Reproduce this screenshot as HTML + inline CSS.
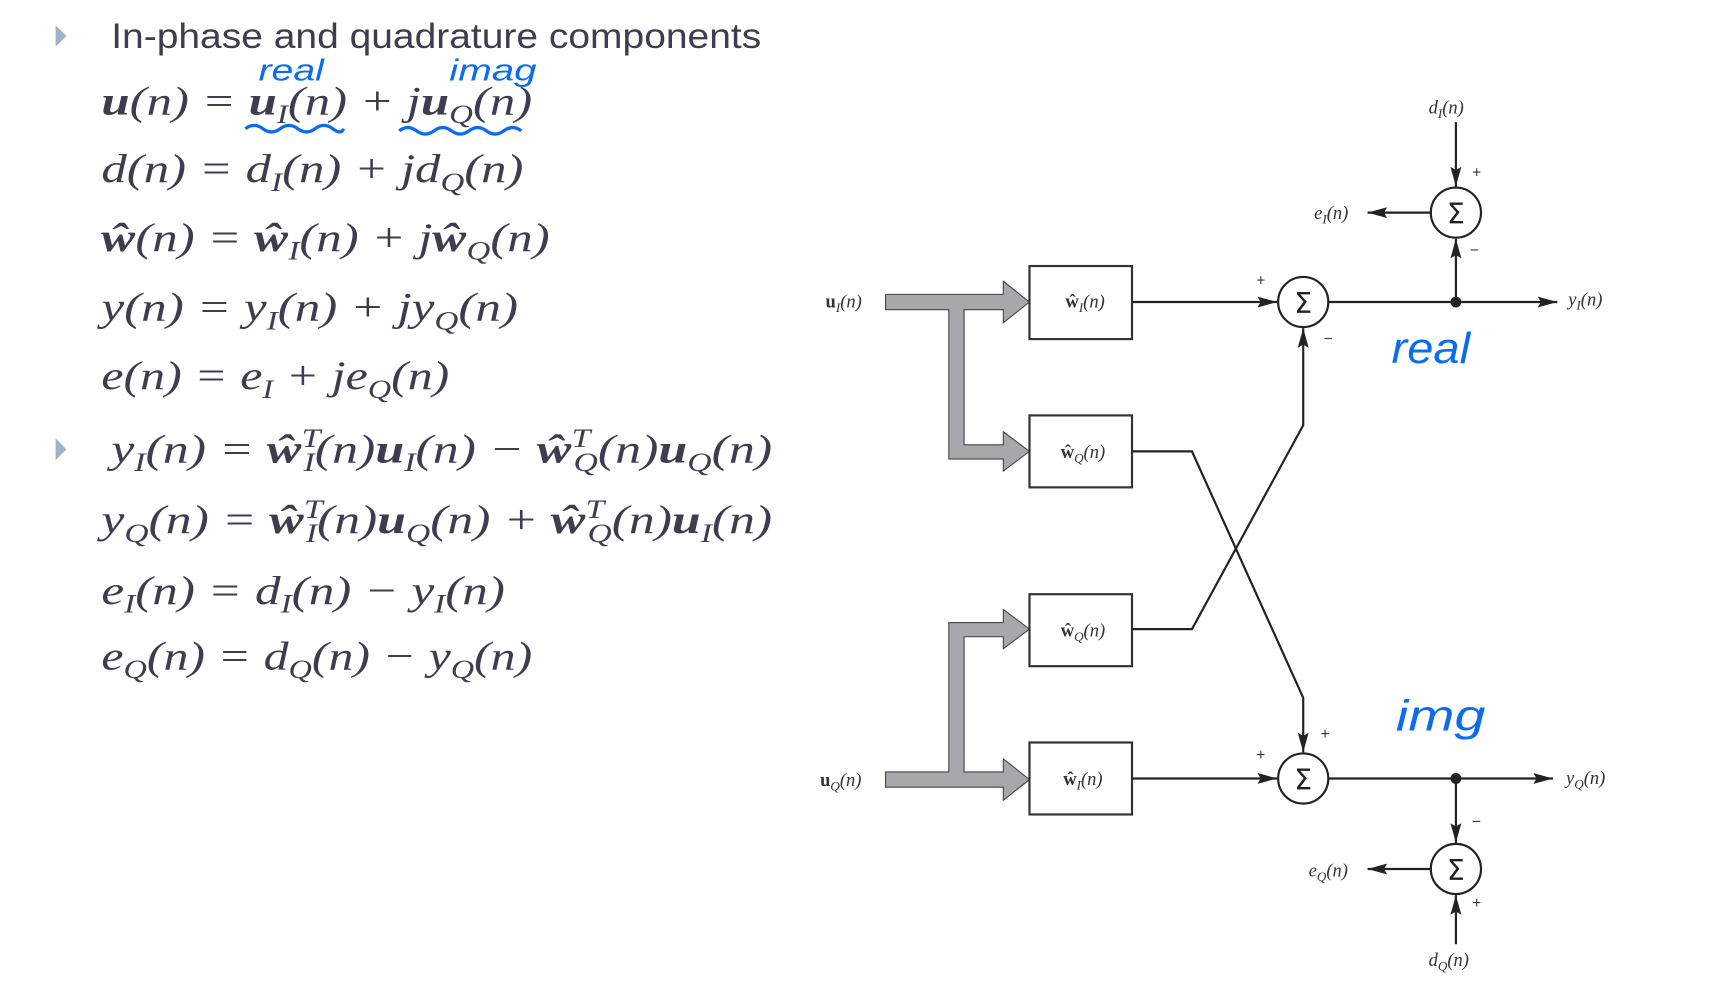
<!DOCTYPE html>
<html><head><meta charset="utf-8"><style>
html,body{margin:0;padding:0;background:#fff;}
svg{display:block;}
.m{font-family:"Liberation Serif",serif;font-style:italic;font-size:37px;fill:#3d3d4f;}
.b{font-weight:bold;}
.lab{font-family:"Liberation Serif",serif;font-size:17px;fill:#333;}
.sg{font-family:"Liberation Sans",sans-serif;font-size:14px;fill:#333;}
.hw{font-family:"Liberation Sans",sans-serif;font-style:italic;fill:#0b6cf0;}
</style></head><body>
<svg width="1710" height="990" viewBox="0 0 1568 908" preserveAspectRatio="none" xmlns="http://www.w3.org/2000/svg">
<defs>
<marker id="ah2" markerWidth="18" markerHeight="10" refX="18" refY="5" orient="auto" markerUnits="userSpaceOnUse"><path d="M0,0 L18,5 L0,10 L3,5 z" fill="#222"/></marker>
</defs>
<path d="M51,23 L61,33 L51,43 z" fill="#9fb3c8"/>
<path d="M51,402 L61,412 L51,422 z" fill="#9fb3c8"/>
<text x="102" y="44" font-family="Liberation Sans,sans-serif" font-size="32" fill="#3d3d4f" textLength="596" lengthAdjust="spacingAndGlyphs">In-phase and quadrature components</text>

<text class="m" y="105" textLength="395" lengthAdjust="spacingAndGlyphs" x="93"><tspan class="b">u</tspan>(n) = <tspan class="b">u</tspan><tspan dy="8" font-size="24">I</tspan><tspan dy="-8">(n) + j</tspan><tspan class="b">u</tspan><tspan dy="8" font-size="24">Q</tspan><tspan dy="-8">(n)</tspan></text>
<text class="m" y="167" x="93" textLength="387" lengthAdjust="spacingAndGlyphs">d(n) = d<tspan dy="8" font-size="24">I</tspan><tspan dy="-8">(n) + jd</tspan><tspan dy="8" font-size="24">Q</tspan><tspan dy="-8">(n)</tspan></text>
<text class="m" y="230" x="93" textLength="411" lengthAdjust="spacingAndGlyphs"><tspan class="b">ŵ</tspan>(n) = <tspan class="b">ŵ</tspan><tspan dy="8" font-size="24">I</tspan><tspan dy="-8">(n) + j</tspan><tspan class="b">ŵ</tspan><tspan dy="8" font-size="24">Q</tspan><tspan dy="-8">(n)</tspan></text>
<text class="m" y="294" x="93" textLength="382" lengthAdjust="spacingAndGlyphs">y(n) = y<tspan dy="8" font-size="24">I</tspan><tspan dy="-8">(n) + jy</tspan><tspan dy="8" font-size="24">Q</tspan><tspan dy="-8">(n)</tspan></text>
<text class="m" y="357" x="93" textLength="319" lengthAdjust="spacingAndGlyphs">e(n) = e<tspan dy="8" font-size="24">I</tspan><tspan dy="-8"> + je</tspan><tspan dy="8" font-size="24">Q</tspan><tspan dy="-8">(n)</tspan></text>
<text class="m" y="424" x="102" textLength="606" lengthAdjust="spacingAndGlyphs">y<tspan dy="8" font-size="24">I</tspan><tspan dy="-8">(n) = </tspan><tspan class="b">ŵ</tspan><tspan dy="-14" font-size="24">T</tspan><tspan dx="-12" dy="22" font-size="24">I</tspan><tspan dy="-8">(n)</tspan><tspan class="b">u</tspan><tspan dy="8" font-size="24">I</tspan><tspan dy="-8">(n) − </tspan><tspan class="b">ŵ</tspan><tspan dy="-14" font-size="24">T</tspan><tspan dx="-12" dy="22" font-size="24">Q</tspan><tspan dy="-8">(n)</tspan><tspan class="b">u</tspan><tspan dy="8" font-size="24">Q</tspan><tspan dy="-8">(n)</tspan></text>
<text class="m" y="489" x="93" textLength="615" lengthAdjust="spacingAndGlyphs">y<tspan dy="8" font-size="24">Q</tspan><tspan dy="-8">(n) = </tspan><tspan class="b">ŵ</tspan><tspan dy="-14" font-size="24">T</tspan><tspan dx="-12" dy="22" font-size="24">I</tspan><tspan dy="-8">(n)</tspan><tspan class="b">u</tspan><tspan dy="8" font-size="24">Q</tspan><tspan dy="-8">(n) + </tspan><tspan class="b">ŵ</tspan><tspan dy="-14" font-size="24">T</tspan><tspan dx="-12" dy="22" font-size="24">Q</tspan><tspan dy="-8">(n)</tspan><tspan class="b">u</tspan><tspan dy="8" font-size="24">I</tspan><tspan dy="-8">(n)</tspan></text>
<text class="m" y="554" x="93" textLength="370" lengthAdjust="spacingAndGlyphs">e<tspan dy="8" font-size="24">I</tspan><tspan dy="-8">(n) = d</tspan><tspan dy="8" font-size="24">I</tspan><tspan dy="-8">(n) − y</tspan><tspan dy="8" font-size="24">I</tspan><tspan dy="-8">(n)</tspan></text>
<text class="m" y="614" x="93" textLength="395" lengthAdjust="spacingAndGlyphs">e<tspan dy="8" font-size="24">Q</tspan><tspan dy="-8">(n) = d</tspan><tspan dy="8" font-size="24">Q</tspan><tspan dy="-8">(n) − y</tspan><tspan dy="8" font-size="24">Q</tspan><tspan dy="-8">(n)</tspan></text>

<text class="hw" x="237" y="74" font-size="28" textLength="60" lengthAdjust="spacingAndGlyphs">real</text>
<text class="hw" x="412" y="74" font-size="28" textLength="80" lengthAdjust="spacingAndGlyphs">imag</text>
<path d="M225,118 q8,-6 16,0 t16,0 t16,0 t16,0 t16,0 t10,0" fill="none" stroke="#0b6cf0" stroke-width="3"/>
<path d="M366,120 q8,-6 16,0 t16,0 t16,0 t16,0 t16,0 t16,0 t16,0" fill="none" stroke="#0b6cf0" stroke-width="3"/>
<text class="hw" x="1276" y="333" font-size="40" textLength="72" lengthAdjust="spacingAndGlyphs">real</text>
<text class="hw" x="1280" y="670" font-size="40" textLength="82" lengthAdjust="spacingAndGlyphs">img</text>

<g fill="#a7a8ab" stroke="#444" stroke-width="1">
<path d="M812,270 L920,270 L920,258 L944,277 L920,296 L920,284 L884,284 L884,408 L920,408 L920,396 L944,414 L920,432 L920,421 L870,421 L870,284 L812,284 z"/>
<path d="M812,708 L870,708 L870,571 L920,571 L920,559 L944,577 L920,595 L920,584 L884,584 L884,708 L920,708 L920,696 L944,715 L920,734 L920,722 L812,722 z"/>
</g>

<g fill="#fff" stroke="#333" stroke-width="2">
<rect x="944" y="244" width="94" height="67"/>
<rect x="944" y="381" width="94" height="66"/>
<rect x="944" y="545" width="94" height="66"/>
<rect x="944" y="681" width="94" height="66"/>
</g>
<g class="lab" text-anchor="middle">
<text x="995" y="282"><tspan font-weight="bold">ŵ</tspan><tspan font-style="italic" font-size="12" dy="4">I</tspan><tspan dy="-4" font-style="italic">(n)</tspan></text>
<text x="993" y="420"><tspan font-weight="bold">ŵ</tspan><tspan font-style="italic" font-size="12" dy="4">Q</tspan><tspan dy="-4" font-style="italic">(n)</tspan></text>
<text x="993" y="584"><tspan font-weight="bold">ŵ</tspan><tspan font-style="italic" font-size="12" dy="4">Q</tspan><tspan dy="-4" font-style="italic">(n)</tspan></text>
<text x="993" y="720"><tspan font-weight="bold">ŵ</tspan><tspan font-style="italic" font-size="12" dy="4">I</tspan><tspan dy="-4" font-style="italic">(n)</tspan></text>
</g>
<text class="lab" x="757" y="282"><tspan font-weight="bold">u</tspan><tspan font-style="italic" font-size="12" dy="4">I</tspan><tspan dy="-4" font-style="italic">(n)</tspan></text>
<text class="lab" x="752" y="721"><tspan font-weight="bold">u</tspan><tspan font-style="italic" font-size="12" dy="4">Q</tspan><tspan dy="-4" font-style="italic">(n)</tspan></text>

<g stroke="#222" stroke-width="2" fill="none">
<line x1="1038" y1="277" x2="1171" y2="277" marker-end="url(#ah2)"/>
<line x1="1218" y1="277" x2="1428" y2="277" marker-end="url(#ah2)"/>
<line x1="1335" y1="277" x2="1335" y2="219" marker-end="url(#ah2)"/>
<line x1="1335" y1="112" x2="1335" y2="171" marker-end="url(#ah2)"/>
<line x1="1312" y1="195" x2="1254" y2="195" marker-end="url(#ah2)"/>
<polyline points="1038,414 1093,414 1195,640 1195,690" marker-end="url(#ah2)"/>
<polyline points="1038,577 1093,577 1195,390 1195,301" marker-end="url(#ah2)"/>
<line x1="1038" y1="714" x2="1171" y2="714" marker-end="url(#ah2)"/>
<line x1="1218" y1="714" x2="1424" y2="714" marker-end="url(#ah2)"/>
<line x1="1335" y1="714" x2="1335" y2="773" marker-end="url(#ah2)"/>
<line x1="1335" y1="866" x2="1335" y2="821" marker-end="url(#ah2)"/>
<line x1="1312" y1="797" x2="1254" y2="797" marker-end="url(#ah2)"/>
</g>
<g fill="#fff" stroke="#222" stroke-width="2">
<circle cx="1195" cy="277" r="23"/>
<circle cx="1335" cy="195" r="23"/>
<circle cx="1195" cy="714" r="23"/>
<circle cx="1335" cy="797" r="23"/>
</g>
<circle cx="1335" cy="277" r="5" fill="#222"/>
<circle cx="1335" cy="714" r="5" fill="#222"/>
<g font-family="DejaVu Sans,sans-serif" font-size="26" fill="#222" text-anchor="middle">
<text x="1195" y="287">Σ</text><text x="1335" y="205">Σ</text><text x="1195" y="724">Σ</text><text x="1335" y="807">Σ</text>
</g>
<g class="sg">
<text x="1152" y="262">+</text><text x="1214" y="315">−</text>
<text x="1350" y="163">+</text><text x="1348" y="234">−</text>
<text x="1211" y="678">+</text><text x="1152" y="697">+</text>
<text x="1350" y="758">−</text><text x="1350" y="833">+</text>
</g>
<g class="lab" font-style="italic">
<text x="1310" y="104">d<tspan font-size="12" dy="4">I</tspan><tspan dy="-4">(n)</tspan></text>
<text x="1205" y="201">e<tspan font-size="12" dy="4">I</tspan><tspan dy="-4">(n)</tspan></text>
<text x="1438" y="280">y<tspan font-size="12" dy="4">I</tspan><tspan dy="-4">(n)</tspan></text>
<text x="1436" y="719">y<tspan font-size="12" dy="4">Q</tspan><tspan dy="-4">(n)</tspan></text>
<text x="1200" y="804">e<tspan font-size="12" dy="4">Q</tspan><tspan dy="-4">(n)</tspan></text>
<text x="1310" y="886">d<tspan font-size="12" dy="4">Q</tspan><tspan dy="-4">(n)</tspan></text>
</g>
</svg>
</body></html>
